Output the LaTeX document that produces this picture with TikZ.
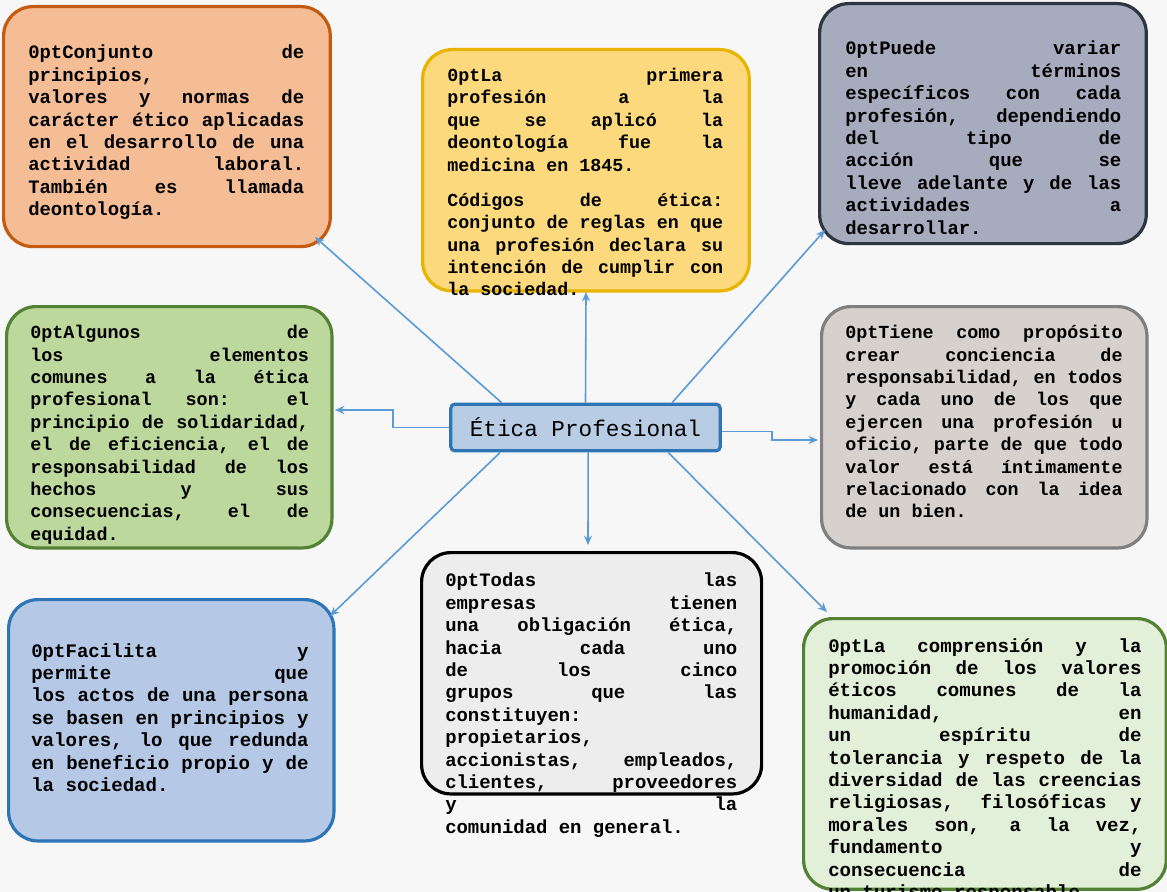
\documentclass[tikz,border=0pt]{standalone}
\usepackage{fontspec}
\setmonofont{Liberation Mono}[WordSpace={1,6,0}]
\usetikzlibrary{arrows.meta}
\definecolor{bg}{HTML}{F7F7F7}
\definecolor{arr}{HTML}{5B9BD5}
\definecolor{d1}{HTML}{C55A11}\definecolor{f1}{HTML}{F4BD96}
\definecolor{d2}{HTML}{E8B400}\definecolor{f2}{HTML}{FBD97C}
\definecolor{d3}{HTML}{2E3440}\definecolor{f3}{HTML}{A7ABBE}
\definecolor{d4}{HTML}{548235}\definecolor{f4}{HTML}{BDD89C}
\definecolor{d6}{HTML}{7F7F7F}\definecolor{f6}{HTML}{D6D1CD}
\definecolor{d7}{HTML}{2E75B6}\definecolor{f7}{HTML}{B5C9E7}
\definecolor{f8}{HTML}{EDEDED}
\definecolor{f9}{HTML}{E2EFD9}
\definecolor{fc}{HTML}{B8CCE4}
\tikzset{
  x=0.75pt,y=-0.75pt,
  card/.style={draw,line width=2.4pt,rounded corners=22pt,anchor=north west,inner sep=0},
  txt/.style={anchor=north west,inner sep=0,align=justify,font=\ttfamily\bfseries\fontsize{#1}{16.8}\selectfont\hyphenpenalty=10000\exhyphenpenalty=10000},
  link/.style={draw=arr,line width=1.2pt,-{Stealth[length=7pt,width=6pt]}}
}
\newcommand{\lb}{\linebreak}
\begin{document}
\begin{tikzpicture}
\fill[bg] (0,0) rectangle (1167,892);
\useasboundingbox (0,0) rectangle (1167,892);
% boxes
\node[card,draw=d1,fill=f1,minimum width=245pt,minimum height=180pt] (b1) at (2,5) {};
\node[card,draw=d2,fill=f2,minimum width=245pt,minimum height=181pt] (b2) at (421,48) {};
\node[card,draw=d3,fill=f3,minimum width=245pt,minimum height=180pt] (b3) at (818,2) {};
\node[card,draw=d4,fill=f4,minimum width=244pt,minimum height=181pt] (b4) at (5,305) {};
\node[card,draw=d6,fill=f6,minimum width=244pt,minimum height=181pt] (b6) at (820,305) {};
\node[card,draw=d7,fill=f7,minimum width=244pt,minimum height=181pt] (b7) at (7,598) {};
\node[card,draw=black,fill=f8,minimum width=255pt,minimum height=181pt] (b8) at (420,551) {};
\node[card,draw=d4,fill=f9,minimum width=272pt,minimum height=203pt] (b9) at (802,617) {};
% center
\node[draw=d7,line width=2.4pt,fill=fc,rounded corners=3pt,minimum width=202pt,minimum height=35pt,font=\ttfamily\fontsize{17}{20}\selectfont] (c) at (585.5,427.5) {Ética Profesional};
% texts
\node[txt=14.2,text width=207pt] (t1) at (28,45) {Conjunto de principios,\lb valores y normas de\lb carácter ético aplicadas\lb en el desarrollo de una\lb actividad laboral.\lb También es llamada\lb deontología.};
\node[txt=13.75,text width=207pt] (t2) at (447,68) {La primera profesión a la\lb que se aplicó la\lb deontología fue la\lb medicina en 1845.\par\vspace{9.5pt}Códigos de ética:\lb conjunto de reglas en que\lb una profesión declara su\lb intención de cumplir con\lb la sociedad.};
\node[txt=14.2,text width=207pt] (t3) at (845,41) {Puede variar en términos\lb específicos con cada\lb profesión, dependiendo\lb del tipo de acción que se\lb lleve adelante y de las\lb actividades a\lb desarrollar.};
\node[txt=13.8,text width=209pt] (t4) at (30,325) {Algunos de los elementos\lb comunes a la ética\lb profesional son: el\lb principio de solidaridad,\lb el de eficiencia, el de\lb responsabilidad de los\lb hechos y sus\lb consecuencias, el de\lb equidad.};
\node[txt=13.8,text width=208pt] (t6) at (845,325) {Tiene como propósito\lb crear conciencia de\lb responsabilidad, en todos\lb y cada uno de los que\lb ejercen una profesión u\lb oficio, parte de que todo\lb valor está íntimamente\lb relacionado con la idea\lb de un bien.};
\node[txt=14.3,text width=208pt] (t7) at (31,643) {Facilita y permite que\lb los actos de una persona\lb se basen en principios y\lb valores, lo que redunda\lb en beneficio propio y de\lb la sociedad.};
\node[txt=14.2,text width=219pt] (t8) at (445,573) {Todas las empresas tienen\lb una obligación ética,\lb hacia cada uno de los cinco\lb grupos que las\lb constituyen: propietarios,\lb accionistas, empleados,\lb clientes, proveedores y la\lb comunidad en general.};
\node[txt=14.3,text width=235pt] (t9) at (828,638) {La comprensión y la\lb promoción de los valores\lb éticos comunes de la\lb humanidad, en un espíritu de\lb tolerancia y respeto de la\lb diversidad de las creencias\lb religiosas, filosóficas y\lb morales son, a la vez,\lb fundamento y consecuencia de\lb un turismo responsable.};
% arrow ends
\coordinate (e1) at (315,237);
\coordinate (e2) at (586,292);
\coordinate (e3) at (825,230);
\coordinate (e4) at (335,410);
\coordinate (e6) at (818,440);
\coordinate (e7) at (330,616);
\coordinate (e8) at (588,545);
\coordinate (e9) at (827,612);
\draw[link] ([xshift=-63pt]c.north) -- (e1);
\draw[link] (c.north) -- (e2);
\draw[link] ([xshift=65pt]c.north) -- (e3);
\draw[link] (c.west) -- ++(-56,0) |- (e4);
\draw[link] ([yshift=-3pt]c.east) -- ++(50,0) |- (e6);
\draw[link] ([xshift=-64pt]c.south) -- (e7);
\draw[link] ([xshift=2pt]c.south) -- (e8);
\draw[link] ([xshift=62pt]c.south) -- (e9);
\end{tikzpicture}
\end{document}
